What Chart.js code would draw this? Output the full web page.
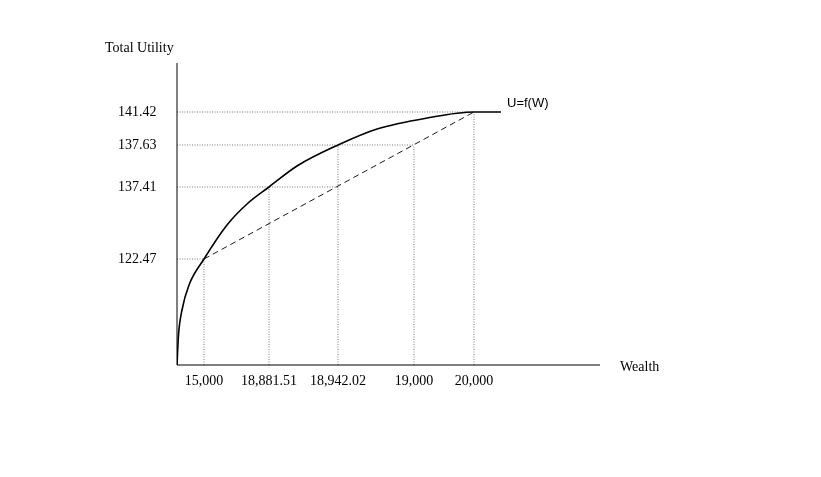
<!DOCTYPE html>
<html><head><meta charset="utf-8">
<script src="https://cdn.jsdelivr.net/npm/chart.js@4"></script>
<style>html,body{margin:0;padding:0;background:#fff}#c{display:block}</style>
</head><body>
<canvas id="c" width="821" height="477"></canvas>
<script>
// schematic positions (not proportional to values, as in the original diagram)
const xTickLabels = ["15,000","18,881.51","18,942.02","19,000","20,000"];
const xTickPos = [2.7, 9.2, 16.1, 23.7, 29.7];
const yTickLabels = ["141.42","137.63","137.41","122.47"];
const yTickPos = [25.3, 22.0, 17.8, 10.6];
const curveX = [0, 0.15, 0.5, 1.2, 2.7, 5, 7, 9.2, 12, 16.1, 20, 25, 29.7, 32.4];
const curveY = [0, 3.0, 5.5, 8.0, 10.6, 14.0, 16.1, 17.8, 19.9, 22.0, 23.6, 24.7, 25.3, 25.3];
const chordX = [2.7, 29.7];
const chordY = [10.6, 25.3];
// guide lines: [x, y] endpoints
const guideV = [[2.7,10.6],[9.2,17.8],[16.1,22.0],[23.7,22.0],[29.7,25.3]];
const guideH = [[2.7,10.6],[16.1,17.8],[23.7,22.0],[29.7,25.3]];

const pts = (xs, ys) => xs.map((x,i)=>({x, y: ys[i]}));
const guides = [];
guideV.forEach(([x,y])=>guides.push({data:[{x,y:0},{x,y}]}));
guideH.forEach(([x,y])=>guides.push({data:[{x:0,y},{x,y}]}));
const guideSets = guides.map(g=>({data:g.data,borderColor:'#555',borderWidth:0.8,borderDash:[1,1.5],pointRadius:0,fill:false}));

const deco = {
  id:'deco',
  afterDraw(chart){
    const {ctx, scales:{x,y}} = chart;
    const x0 = x.getPixelForValue(0), y0 = y.getPixelForValue(0);
    ctx.save();
    ctx.strokeStyle='#000'; ctx.lineWidth=1;
    ctx.beginPath(); ctx.moveTo(x0, y.getPixelForValue(30.2)); ctx.lineTo(x0,y0);
    ctx.lineTo(x.getPixelForValue(42.3), y0); ctx.stroke();
    ctx.fillStyle='#000';
    ctx.font='14px "Liberation Serif", serif';
    ctx.textAlign='center'; ctx.textBaseline='top';
    xTickLabels.forEach((l,i)=>ctx.fillText(l, x.getPixelForValue(xTickPos[i]), y0+9));
    ctx.textAlign='left'; ctx.textBaseline='middle';
    yTickLabels.forEach((l,i)=>ctx.fillText(l, 118, y.getPixelForValue(yTickPos[i])));
    ctx.fillText('Total Utility', 105, 48);
    ctx.fillText('Wealth', 620, 367);
    ctx.font='13px "Liberation Sans", Arial, sans-serif';
    ctx.fillText('U=f(W)', 507, 103);
    ctx.restore();
  }
};

new Chart(document.getElementById('c'), {
  type:'line',
  data:{datasets:[
    {data:pts(curveX,curveY),borderColor:'#000',borderWidth:1.6,pointRadius:0,tension:0.4,cubicInterpolationMode:'monotone',fill:false},
    {data:pts(chordX,chordY),borderColor:'#000',borderWidth:0.9,borderDash:[6,4],pointRadius:0,fill:false},
    ...guideSets
  ]},
  options:{
    responsive:false, animation:false,
    layout:{padding:{left:177,right:221,top:63,bottom:112}},
    plugins:{legend:{display:false},tooltip:{enabled:false}},
    scales:{
      x:{type:'linear',min:0,max:42.3,display:false},
      y:{type:'linear',min:0,max:30.2,display:false}
    }
  },
  plugins:[deco]
});
</script>
</body></html>
